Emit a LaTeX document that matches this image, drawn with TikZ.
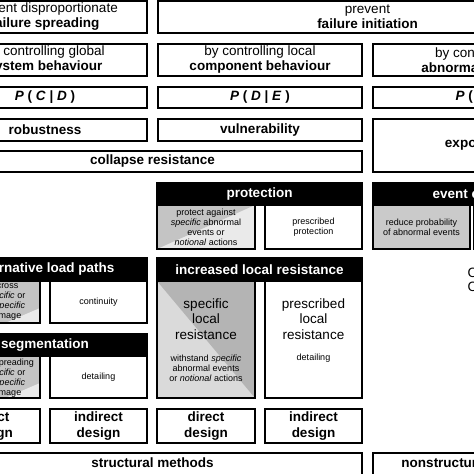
\documentclass[tikz,border=0pt]{standalone}
\usepackage{fontspec}
\setmainfont{Liberation Sans}
\newcommand\fsA{\fontsize{13.5}{15}\selectfont}
\newcommand\fsB{\fontsize{9}{10}\selectfont}
\newcommand\fsC{\fontsize{13.5}{15.5}\selectfont}
\newcommand\fsD{\fontsize{13.5}{16}\selectfont}
\definecolor{gdark}{HTML}{C4C4C4}
\definecolor{glight}{HTML}{EAEAEA}
\definecolor{sdark}{HTML}{B4B4B4}
\definecolor{slight}{HTML}{DADADA}
\definecolor{gmid}{HTML}{CACACA}
\begin{document}
\begin{tikzpicture}[x=1pt,y=-1pt,
 box/.style={draw=black, line width=1.8pt, inner sep=0pt, align=center, font=\fsA, fill=white},
 hdr/.style={draw=black, fill=black, line width=1.8pt, inner sep=0pt, text=white, font=\fsA\bfseries},
 txt/.style={inner sep=0pt, align=center},
 sz/.style 2 args={minimum width=#1pt, minimum height=#2pt},
 splitA/.style={fill=gdark, path picture={\fill[glight] ([xshift=-35pt]path picture bounding box.south east) -- (path picture bounding box.south east) -- ([yshift=15pt]path picture bounding box.south east) -- cycle;}},
 splitP/.style={fill=glight, path picture={\fill[gdark] (path picture bounding box.north west) -- (path picture bounding box.north east) -- (path picture bounding box.south west) -- cycle;}},
 splitS/.style={fill=slight, path picture={\fill[sdark] (path picture bounding box.north west) -- (path picture bounding box.north east) -- (path picture bounding box.south east) -- cycle;}}]
\useasboundingbox (0,0) rectangle (474,474);
\clip (0,0) rectangle (474,474);
% row 1
\node[box, sz={204}{32}] (a1) at (45,17) {prevent disproportionate\\\textbf{failure spreading}};
\node[box, sz={419}{32}] (b1) at (367.5,17) {prevent\\\textbf{failure initiation}};
% row 2
\node[box, sz={204}{32}] (a2) at (45,60) {by controlling global\\\textbf{system behaviour}};
\node[box, sz={204}{32}] (b2) at (260,60) {by controlling local\\\textbf{component behaviour}};
\node[box, sz={204}{32}] (c2) at (475,60) {by controlling\\\textbf{abnormal events}};
% row 3
\node[box, sz={204}{21}] (a3) at (45,97.5) {\textbf{\textit{P} ( \textit{C} | \textit{D} )}};
\node[box, sz={204}{21}] (b3) at (260,97.5) {\textbf{\textit{P} ( \textit{D} | \textit{E} )}};
\node[box, sz={204}{21}] (c3) at (475,97.5) {\textbf{\textit{P} ( \textit{E} )}};
% row 4
\node[box, sz={204}{22}] (a4) at (45,130) {\textbf{robustness}};
\node[box, sz={204}{22}] (b4) at (260,130) {\textbf{vulnerability}};
\node[box, sz={204}{53}] (c4) at (475,145.5) {\textbf{exposure}};
% row 5
\node[box, sz={419}{21}] (a5) at (152.5,161.5) {\textbf{collapse resistance}};
% protection
\node[hdr, sz={205}{22}] (ph) at (259.5,194) {protection};
\node[box, splitP, sz={98}{44}, font=\fsB] (ps1) at (206,227) {protect against\\\textit{specific} abnormal\\events or\\\textit{notional} actions};
\node[box, sz={97}{44}, font=\fsB] (ps2) at (313.5,227) {prescribed\\protection};
% event control
\node[hdr, sz={204}{22}] (eh) at (475,194) {event control};
\node[box, fill=gmid, sz={97}{44}, font=\fsB] (es1) at (421.5,227) {reduce probability\\of abnormal events};
\node[box, sz={98}{44}] (es2) at (523,227) {};
\node[txt, font=\fsA, anchor=west] (cc1) at (467.5,273) {C};
\node[txt, font=\fsA, anchor=west] (cc2) at (467.5,287) {C};
% alternative load paths
\node[hdr, sz={204}{23}] (alh) at (45,269.5) {alternative load paths};
\node[box, splitA, sz={98}{42}] (al1) at (-9,302) {};
\node[txt, font=\fsB] (al1t) at (5,302) {across\\\textit{specific} or\\\textit{unspecific}\\damage};
\node[box, sz={97}{42}, font=\fsB] (al2) at (98.5,302) {continuity};
% segmentation
\node[hdr, sz={204}{22}] (sgh) at (45,345) {segmentation};
\node[box, splitA, sz={98}{42}] (sg1) at (-9,377) {};
\node[txt, font=\fsB] (sg1t) at (5,378) {limit spreading\\\textit{specific} or\\\textit{unspecific}\\damage};
\node[box, sz={97}{42}, font=\fsB] (sg2) at (98.5,377) {detailing};
% increased local resistance
\node[hdr, sz={205}{23}] (ilh) at (259.5,269.5) {increased local resistance};
\node[box, splitS, sz={98}{117}] (slr) at (206,339.5) {};
\node[txt, font=\fsC] (slrt) at (206,319) {specific\\local\\resistance};
\node[txt, font=\fsB] (slrs) at (206,368) {withstand \textit{specific}\\abnormal events\\or \textit{notional} actions};
\node[box, sz={97}{117}] (plr) at (313.5,339.5) {};
\node[txt, font=\fsC] (plrt) at (313.5,319) {prescribed\\local\\resistance};
\node[txt, font=\fsB] (plrs) at (313.5,358) {detailing};
% design row
\node[box, sz={98}{34}, font=\fsD\bfseries] (d1) at (-9,426) {direct\\design};
\node[box, sz={97}{34}, font=\fsD\bfseries] (d2) at (98.5,426) {indirect\\design};
\node[box, sz={98}{34}, font=\fsD\bfseries] (d3) at (206,426) {direct\\design};
\node[box, sz={97}{34}, font=\fsD\bfseries] (d4) at (313.5,426) {indirect\\design};
% methods
\node[box, anchor=north, minimum width=419pt, text height=15pt, text depth=25pt, font=\fsA\bfseries] (sm) at (152.5,452) {structural methods};
\node[box, anchor=north, minimum width=204pt, text height=15pt, text depth=25pt, font=\fsA\bfseries] (ns) at (475,452) {nonstructural methods};
\end{tikzpicture}
\end{document}
